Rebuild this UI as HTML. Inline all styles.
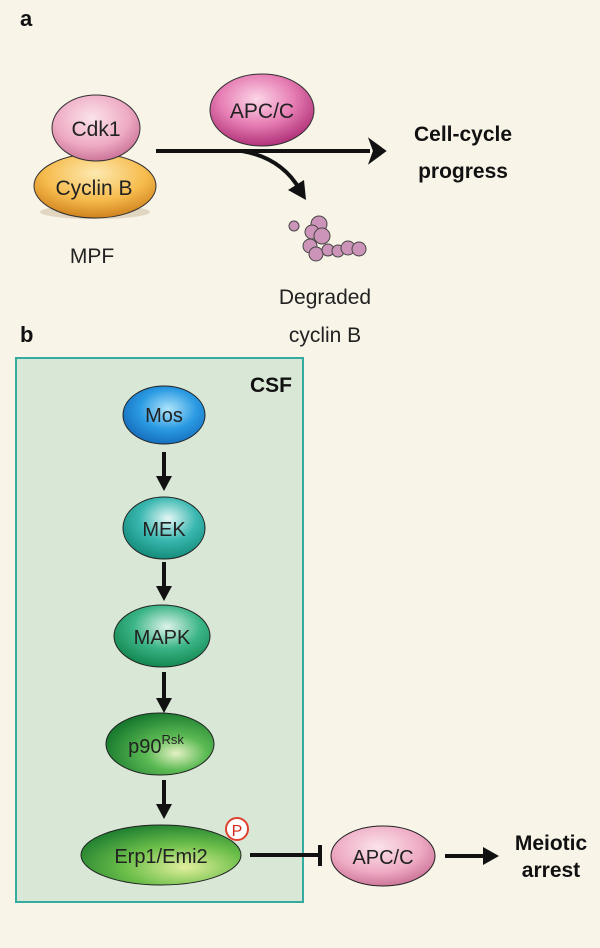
<!DOCTYPE html>
<html><head><meta charset="utf-8"><style>
body{margin:0;background:#f8f4e8;}
svg{display:block;font-family:"Liberation Sans",sans-serif;}
</style></head><body>
<svg width="600" height="948" viewBox="0 0 600 948">
<defs>
<radialGradient id="pink" cx="45%" cy="35%" r="70%"><stop offset="0" stop-color="#fbd6e6"/><stop offset="0.5" stop-color="#e77fb5"/><stop offset="1" stop-color="#a82670"/></radialGradient>
<radialGradient id="pinkl" cx="45%" cy="35%" r="70%"><stop offset="0" stop-color="#fbe3ea"/><stop offset="0.6" stop-color="#eeaac3"/><stop offset="1" stop-color="#c66b91"/></radialGradient>
<radialGradient id="orange" cx="50%" cy="30%" r="70%"><stop offset="0" stop-color="#fde9b0"/><stop offset="0.6" stop-color="#f6bb4c"/><stop offset="1" stop-color="#d0821e"/></radialGradient>
<radialGradient id="blue" cx="55%" cy="40%" r="70%"><stop offset="0" stop-color="#aee4fb"/><stop offset="0.5" stop-color="#2a9ae2"/><stop offset="1" stop-color="#0f5fb0"/></radialGradient>
<radialGradient id="teal" cx="55%" cy="35%" r="70%"><stop offset="0" stop-color="#e5f7f6"/><stop offset="0.5" stop-color="#39b7b0"/><stop offset="1" stop-color="#0f8672"/></radialGradient>
<radialGradient id="green1" cx="55%" cy="35%" r="70%"><stop offset="0" stop-color="#def3ea"/><stop offset="0.5" stop-color="#3bb587"/><stop offset="1" stop-color="#0d8048"/></radialGradient>
<radialGradient id="green2" cx="65%" cy="65%" r="70%"><stop offset="0" stop-color="#e5f1c4"/><stop offset="0.4" stop-color="#5bba53"/><stop offset="1" stop-color="#16772d"/></radialGradient>
<radialGradient id="green3" cx="65%" cy="70%" r="75%"><stop offset="0" stop-color="#e2ef9c"/><stop offset="0.5" stop-color="#6cbf4a"/><stop offset="1" stop-color="#1f7f30"/></radialGradient>
<marker id="ah" markerWidth="10" markerHeight="10" refX="6" refY="5" orient="auto" markerUnits="userSpaceOnUse"><path d="M0,0 L10,5 L0,10 L3,5 Z" fill="#111"/></marker>
<marker id="ah2" markerWidth="22" markerHeight="20" refX="18" refY="10" orient="auto" markerUnits="userSpaceOnUse"><path d="M0,0 L22,10 L0,20 L6,10 Z" fill="#111"/></marker>
</defs>
<text x="20" y="26" font-size="22" font-weight="bold" fill="#111">a</text>
<ellipse cx="95" cy="212" rx="55" ry="7" fill="#c9b89a" opacity="0.5"/>
<ellipse cx="95" cy="186" rx="61" ry="32" fill="url(#orange)" stroke="#333" stroke-width="1"/>
<ellipse cx="96" cy="128" rx="44" ry="33" fill="url(#pinkl)" stroke="#333" stroke-width="1"/>
<text x="96" y="136" font-size="21" text-anchor="middle" fill="#222">Cdk1</text>
<text x="94" y="195" font-size="21" text-anchor="middle" fill="#222">Cyclin B</text>
<text x="92" y="263" font-size="21" text-anchor="middle" fill="#222">MPF</text>
<ellipse cx="262" cy="110" rx="52" ry="36" fill="url(#pink)" stroke="#333" stroke-width="1"/>
<text x="262" y="118" font-size="21" text-anchor="middle" fill="#222">APC/C</text>
<line x1="156" y1="151" x2="370" y2="151" stroke="#111" stroke-width="4"/>
<path d="M370,140 L385,151 L370,162 L374,151 Z" fill="#111" stroke="#111" stroke-width="2"/>
<path d="M242,151 Q282,158 300,190" fill="none" stroke="#111" stroke-width="4"/>
<path d="M288,190 L306,200 L304,180 Z" fill="#111"/>
<g stroke="#333" stroke-width="1" fill="#c98ab4" opacity="0.9">
<circle cx="294" cy="226" r="5"/><circle cx="319" cy="224" r="8"/><circle cx="312" cy="232" r="7"/><circle cx="322" cy="236" r="8"/>
<circle cx="310" cy="246" r="7"/><circle cx="316" cy="254" r="7"/><circle cx="328" cy="250" r="6"/><circle cx="338" cy="251" r="6"/>
<circle cx="348" cy="248" r="7"/><circle cx="359" cy="249" r="7"/>
</g>
<text x="325" y="304" font-size="21" text-anchor="middle" fill="#222">Degraded</text>
<text x="325" y="342" font-size="21" text-anchor="middle" fill="#222">cyclin B</text>
<text x="463" y="141" font-size="21" font-weight="bold" text-anchor="middle" fill="#111">Cell-cycle</text>
<text x="463" y="178" font-size="21" font-weight="bold" text-anchor="middle" fill="#111">progress</text>

<text x="20" y="342" font-size="22" font-weight="bold" fill="#111">b</text>
<rect x="16" y="358" width="287" height="544" fill="#d9e7d6" stroke="#35aaa0" stroke-width="2"/>
<text x="292" y="392" font-size="21" font-weight="bold" text-anchor="end" fill="#111">CSF</text>
<g stroke="#222" stroke-width="1">
<ellipse cx="164" cy="415" rx="41" ry="29" fill="url(#blue)"/>
<ellipse cx="164" cy="528" rx="41" ry="31" fill="url(#teal)"/>
<ellipse cx="162" cy="636" rx="48" ry="31" fill="url(#green1)"/>
<ellipse cx="160" cy="744" rx="54" ry="31" fill="url(#green2)"/>
<ellipse cx="161" cy="855" rx="80" ry="30" fill="url(#green3)"/>
<ellipse cx="383" cy="856" rx="52" ry="30" fill="url(#pinkl)"/>
</g>
<text x="164" y="422" font-size="20" text-anchor="middle" fill="#222">Mos</text>
<text x="164" y="536" font-size="20" text-anchor="middle" fill="#222">MEK</text>
<text x="162" y="644" font-size="20" text-anchor="middle" fill="#222">MAPK</text>
<text x="156" y="753" font-size="20" text-anchor="middle" fill="#222">p90<tspan font-size="13" dy="-9">Rsk</tspan></text>
<text x="161" y="863" font-size="20" text-anchor="middle" fill="#222">Erp1/Emi2</text>
<text x="383" y="864" font-size="20" text-anchor="middle" fill="#222">APC/C</text>
<circle cx="237" cy="829" r="11" fill="#fff" stroke="#e0402e" stroke-width="2"/>
<text x="237" y="836" font-size="16" text-anchor="middle" fill="#d02a1a">P</text>
<g stroke="#111" stroke-width="4">
<line x1="164" y1="452" x2="164" y2="478"/><line x1="164" y1="562" x2="164" y2="588"/>
<line x1="164" y1="672" x2="164" y2="700"/><line x1="164" y1="780" x2="164" y2="806"/>
<line x1="250" y1="855" x2="320" y2="855"/><line x1="320" y1="845" x2="320" y2="866" stroke-width="4"/>
<line x1="445" y1="856" x2="485" y2="856"/>
</g>
<g fill="#111">
<path d="M156,476 L172,476 L164,491 Z"/><path d="M156,586 L172,586 L164,601 Z"/>
<path d="M156,698 L172,698 L164,713 Z"/><path d="M156,804 L172,804 L164,819 Z"/>
<path d="M483,847 L499,856 L483,865 Z"/>
</g>
<text x="551" y="850" font-size="21" font-weight="bold" text-anchor="middle" fill="#111">Meiotic</text>
<text x="551" y="877" font-size="21" font-weight="bold" text-anchor="middle" fill="#111">arrest</text>
</svg>
</body></html>
